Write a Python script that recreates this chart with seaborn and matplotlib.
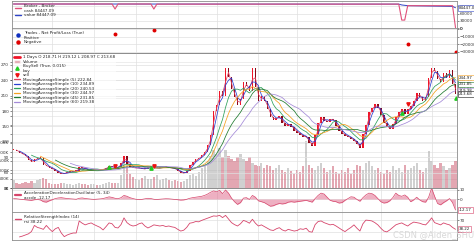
import numpy as np
import pandas as pd
import matplotlib
matplotlib.use("Agg")
import matplotlib.pyplot as plt
import seaborn as sns
from matplotlib.lines import Line2D
from matplotlib.patches import Patch

sns.set_theme(style="white")
plt.rcParams["font.family"] = ["DejaVu Sans"]

# ---------------- data ----------------
close = [105, 103, 98, 96, 92, 84, 80, 86, 88, 88,
         75, 73, 69, 67, 63, 59, 57, 59, 61, 61,
         63, 63, 71, 69, 67, 65, 65, 67, 65, 65,
         67, 69, 73, 71, 69, 71, 79, 92, 77, 71,
         69, 69, 69, 67, 67, 71, 71, 69, 69, 69,
         71, 71, 69, 69, 67, 63, 59, 59, 63, 75,
         80, 86, 88, 94, 101, 113, 134, 180, 191, 218,
         209, 264, 247, 222, 207, 191, 203, 236, 228, 218,
         264, 226, 199, 209, 199, 184, 169, 163, 167, 170,
         157, 151, 155, 149, 142, 138, 134, 129, 130, 117,
         111, 134, 157, 169, 161, 159, 165, 163, 151, 142,
         136, 132, 130, 126, 121, 115, 107, 136, 153, 178,
         186, 193, 186, 172, 157, 148, 144, 155, 169, 178,
         184, 174, 184, 190, 199, 216, 207, 199, 207, 245,
         264, 257, 243, 236, 255, 245, 259, 232, 213.68]

volume_k = [420, 300, 250, 280, 350, 300, 380, 260, 420, 500,
            560, 480,
            300, 250, 220, 200, 260, 300, 240, 200, 180, 220,
            280, 240, 200, 180, 220, 200, 160, 180, 200, 260, 320, 300, 260, 280,
            700, 1780, 1200,
            800, 600, 500, 420, 560, 650, 520, 480, 600, 700, 450, 500, 550, 420, 380, 450,
            400, 350, 380, 500,
            700, 800, 650, 900, 1100, 1300,
            1500, 1800, 2100, 1900, 2200, 1700,
            2100, 1800, 1600, 1500, 1700,
            1900, 1600, 1500, 1700, 1400, 1300, 1200, 1400, 1100, 1300,
            1200, 1000, 1100, 1300, 1000, 900, 1100, 950, 800, 1000, 900, 1200, 2600,
            1300, 1100, 1000, 1200, 1400, 1100, 900, 1000, 1200, 900, 800, 1000,
            900, 1100, 800, 1000, 1300, 1200, 1000, 1400, 1500, 1200, 1000, 1100, 900, 800, 1000,
            900, 1200, 1000, 1100, 900, 1300, 1000, 1100, 1200, 1400, 1000, 900, 1100,
            2060, 1500, 1300, 1100, 1400, 1200, 1000, 1100, 1300, 1500]

accde = [0.5, 0.3, -0.2, -0.5, -0.8, -1.2, -1.5, -0.8, -0.5, -1.0,
         -3.0, -3.5, -2.0, -0.8,
         0.5, 1.2, 1.5, 1.0, 0.5, 0.2, 0.0, -0.3,
         0.8, 1.2, 0.6, 0.2, -0.2, -0.4, -0.2, 0.1,
         0.5, 1.5, 2.4, 1.8, 0.8, 0.3,
         1.5, 4.0, 3.0, 1.5, 0.5,
         -0.3, -0.6, -0.4, 0.2, 0.8, 0.5, -0.3, -0.5, -0.2,
         0.1, 0.3, 0.2, -0.1, -0.3, -0.8, -1.2, -1.0, -0.3,
         0.8, 1.5, 2.0, 2.5, 3.0, 4.0, 5.5, 7.5,
         9.0, 8.0, 9.5, 6.0, 10.0, 6.5,
         1.0, -3.0, -6.0, -4.0,
         1.0, 1.5, -0.5, 4.0, 2.0,
         -2.0, -3.0, -4.0, -6.0, -8.0, -7.5, -6.0, -5.0, -5.5, -5.0, -3.5,
         -3.0, -3.5, -3.0, -2.5, -2.0, -1.5, -2.5, -3.5,
         0.5, 4.0, 6.5, 5.5, 2.0, -1.5,
         -2.5, -3.0, -4.5, -4.0, -1.5, 0.5,
         2.5, 2.0, -0.5, -2.5, 1.5, 4.5,
         6.5, 6.0, 4.0, 0.5, -3.0, -4.5,
         -4.0, -2.0, 1.5, 6.5, 4.0, 3.0,
         4.5, 2.0, -3.0, -1.0, 2.0,
         -1.0, -3.0, -3.5, 2.0, 12.0,
         3.0, -5.0, -6.5, -4.0, -2.0, 0.5,
         -4.0, -12.17]

rsi = [np.nan, np.nan,
       11, 14, 18, 22, 30, 52, 45, 42,
       38, 52, 40, 30, 40, 45, 25, 12, 18, 22,
       25, 25, 68, 60, 54, 58, 61, 55, 50, 45,
       36, 48, 61, 58, 45, 43, 55, 79, 62, 54,
       50, 52, 58, 61, 50, 43, 48, 54, 52, 50,
       52, 48, 50, 47, 45, 38, 32, 35, 45,
       60, 62, 66, 65, 70, 74, 78, 82,
       86, 85, 88, 80, 88, 75,
       62, 55, 50, 58,
       70, 66, 60, 74, 60,
       50, 54, 48, 42, 36, 34, 40, 44, 36, 32, 38,
       35, 32, 34, 40, 38, 42, 30, 28,
       55, 66, 68, 62, 58, 54,
       56, 50, 43, 36, 30, 38,
       45, 54, 42, 32, 58, 71,
       70, 68, 62, 54, 42, 32,
       29, 36, 45, 54, 58, 61,
       55, 50, 58, 64, 62,
       60, 56, 54, 65, 79,
       62, 58, 54, 61, 57, 54,
       45, 38.22]

ma_periods = [5, 10, 20, 30, 45, 60]
ma_windows = [2, 3, 7, 10, 15, 20]          # same periods, in the coarser plotted bars
ma_colors = ["#e0405e", "#2a3fd0", "#2ca05a", "#f5a020", "#1f7a2e", "#a48ad8"]

cash_idx = [0, 33, 34, 35, 46, 47, 48, 129, 130, 131, 132, 147, 148]
cash_val = [100000, 100000, 79000, 100000, 100000, 79000, 99500, 99500, 33000, 33000, 93000, 93000, 1500]
value_idx = [0, 129, 130, 132, 147, 148]
value_val = [100000, 99500, 96000, 93000, 90000, 84447.09]

trade_idx = [34, 47, 132, 148]
trade_pnl = [-6700, -1300, -20000, -30700]
buy_idx = [32, 46, 130, 148]
sell_idx = [34, 47, 132]

grid_idx = [13, 27, 41, 55, 68, 82, 95, 110, 123, 140]
price_ticks = [30, 60, 90, 120, 150, 180, 210, 240, 270]
vol_ticks = list(range(0, 7500, 500))
vol_label_max = 2500

# ---------------- figure ----------------
W, H = 474, 241
fig = plt.figure(figsize=(W / 100, H / 100), dpi=100)
fig.patch.set_facecolor("white")
L, R = 12, 457


def panel(top, bottom):
    ax = fig.add_axes([L / W, 1 - bottom / H, (R - L) / W, (bottom - top) / H])
    ax.set_facecolor("white")
    for s in ax.spines.values():
        s.set_color("#8c8c8c")
        s.set_linewidth(0.6)
    ax.set_xlim(-0.5, len(close) - 0.5)
    ax.set_xticks(grid_idx)
    ax.set_xticklabels([])
    ax.tick_params(axis="x", length=0)
    ax.yaxis.tick_right()
    ax.tick_params(axis="y", labelsize=3.0, length=1.2, width=0.4, pad=1, colors="#333333")
    ax.grid(True, color="#e0e0e0", lw=0.5)
    ax.set_axisbelow(True)
    return ax


def vbox(ax, val, text, ec):
    ax.annotate(text, xy=(1.0, val), xycoords=("axes fraction", "data"),
                xytext=(1.4, 0), textcoords="offset points", ha="left", va="center",
                fontsize=2.9, color="#222222", annotation_clip=False,
                bbox=dict(boxstyle="square,pad=0.2", fc="white", ec=ec, lw=0.4))


idx = np.arange(len(close))
opens = np.array([close[0]] + close[:-1], dtype=float)
closes = np.array(close, dtype=float)
up = closes >= opens

# ---- broker panel ----
axb = panel(1, 28)
sns.lineplot(x=value_idx, y=value_val, ax=axb, color="#2f44c8", lw=0.7)
sns.lineplot(x=cash_idx, y=cash_val, ax=axb, color="#e0507a", lw=0.8)
axb.set_ylim(0, 112500)
axb.set_yticks([0, 30000, 60000, 90000])
axb.set_ylabel("")
vbox(axb, value_val[-1], f"{value_val[-1]:.2f}", "#2f44c8")
axb.legend([Line2D([], [], color="#e0507a", lw=1.0), Line2D([], [], color="#2f44c8", lw=1.0)],
           ["Broker - Broker\ncash 84447.09", "value 84447.09"],
           loc="upper left", fontsize=3, frameon=False, handlelength=1.5,
           handletextpad=0.6, labelspacing=0.2, borderaxespad=0.3)

# ---- trades panel ----
axt = panel(28, 53)
sns.scatterplot(x=trade_idx, y=trade_pnl, ax=axt, color="#e00000", s=8, linewidth=0)
axt.set_ylim(-31600, 1300)
axt.set_yticks([-30000, -20000, -10000, 0])
axt.set_ylabel("")
axt.legend([Line2D([], [], color="#1030c0", marker="o", ls="none", ms=2.2),
            Line2D([], [], color="#e00000", marker="o", ls="none", ms=2.2)],
           ["Trades - Net Profit/Loss (True)\nPositive", "Negative"],
           loc="upper left", fontsize=3, frameon=False, handlelength=1.5,
           handletextpad=0.6, labelspacing=0.2, borderaxespad=0.3)

# ---- main price panel ----
axm = panel(53, 188)
axv = axm.twinx()
axv.set_xlim(axm.get_xlim())
vol_colors = ["#aaaaaa" if u else "#cc6073" for u in up]
axv.bar(idx, volume_k, width=0.75, color=vol_colors, alpha=0.55, linewidth=0)
axv.set_ylim(0, 7500)
axv.set_yticks(vol_ticks)
axv.set_yticklabels([f"{v}K" if v <= vol_label_max else "" for v in vol_ticks])
axv.yaxis.tick_left()
axv.tick_params(axis="y", labelsize=3.0, length=1.2, width=0.4, pad=0.8, colors="#333333")
axv.grid(True, axis="y", color="#e6e6e6", lw=0.5)
for s in axv.spines.values():
    s.set_visible(False)
axm.set_zorder(axv.get_zorder() + 1)
axm.patch.set_visible(False)

body = np.maximum(np.abs(closes - opens), 1.5)
bottoms = np.minimum(opens, closes)
cand_colors = ["#f01428" if u else "#8a0818" for u in up]
axm.bar(idx, body, bottom=bottoms, width=0.55, color=cand_colors, linewidth=0)

series = pd.Series(closes)
ma_last = []
for p, w, c in zip(ma_periods, ma_windows, ma_colors):
    ma = series.rolling(w).mean()
    ma_last.append(ma.iloc[-1])
    sns.lineplot(x=idx, y=ma.values, ax=axm, color=c, lw=0.55)

axm.plot(buy_idx, closes[buy_idx] * 0.96, ls="none", marker="^", color="#22cc22", ms=2.4)
axm.plot(sell_idx, closes[sell_idx] * 1.05, ls="none", marker="v", color="#ee1111", ms=2.4)

axm.set_ylim(30, 293)
axm.set_yticks(price_ticks)
axm.set_ylabel("")
for v, c in zip(ma_last, ma_colors):
    vbox(axm, v, f"{v:.2f}", c)
vbox(axm, closes[-1], f"{closes[-1]:.2f}", "#111111")

handles = [Line2D([], [], color="#f01428", lw=2.0),
           Patch(facecolor="#cc6073", alpha=0.55),
           Line2D([], [], color="#22cc22", marker="^", ls="none", ms=2.4),
           Line2D([], [], color="#ee1111", marker="v", ls="none", ms=2.4)]
handles += [Line2D([], [], color=c, lw=0.9) for c in ma_colors]
labels = ["1 Days O 218.71 H 219.12 L 208.97 C 213.68", "Volume",
          "BuySell (True, 0.015)\nbuy", "sell"]
labels += [f"MovingAverageSimple ({p}) {v:.2f}" for p, v in zip(ma_periods, ma_last)]
axm.legend(handles, labels, loc="upper left", fontsize=3, frameon=True,
           facecolor="white", edgecolor="none", framealpha=0.6, handlelength=1.5,
           handletextpad=0.6, labelspacing=0.12, borderaxespad=0.3, borderpad=0.2)

# ---- accel/decel oscillator ----
axa = panel(188, 212)
acc = np.array(accde, dtype=float)
axa.fill_between(idx, acc, 0, color="#e07090", alpha=0.55, linewidth=0)
sns.lineplot(x=idx, y=acc, ax=axa, color="#d6456b", lw=0.5)
axa.set_ylim(-14.4, 12.2)
axa.set_yticks([0, 10])
axa.set_ylabel("")
vbox(axa, acc[-1], f"{acc[-1]:.2f}", "#d6456b")
axa.legend([Line2D([], [], color="#d6456b", lw=1.6)],
           ["AccelerationDecelerationOscillator (5, 34)\naccde -12.17"],
           loc="upper left", fontsize=3, frameon=False, handlelength=1.5,
           handletextpad=0.6, borderaxespad=0.3)

# ---- RSI ----
axr = panel(212, 240)
sns.lineplot(x=idx, y=rsi, ax=axr, color="#d6456b", lw=0.6)
axr.set_ylim(0, 100)
axr.set_yticks([30, 70])
axr.set_ylabel("")
vbox(axr, rsi[-1], f"{rsi[-1]:.2f}", "#d6456b")
axr.legend([Line2D([], [], color="#d6456b", lw=1.0)],
           ["RelativeStrengthIndex (14)\nrsi 38.22"],
           loc="upper left", fontsize=3, frameon=False, handlelength=1.5,
           handletextpad=0.6, borderaxespad=0.3)

fig.text(393 / W, 1 - 237 / H, "CSDN @Aiden_SHU", fontsize=6, color="#d4d4d4", alpha=0.9)

fig.savefig("out.png", dpi=100, facecolor="white")
